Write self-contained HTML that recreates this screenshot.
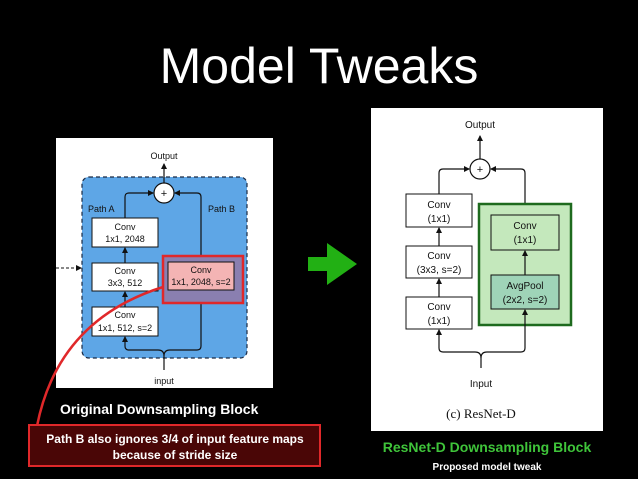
<!DOCTYPE html>
<html><head><meta charset="utf-8"><style>
html,body{margin:0;padding:0;background:#000;}
body{width:638px;height:479px;overflow:hidden;position:relative;font-family:"Liberation Sans",sans-serif;}
</style></head><body>
<svg width="638" height="479" viewBox="0 0 638 479" xmlns="http://www.w3.org/2000/svg" style="position:absolute;left:0;top:0">
<defs>
<marker id="a" markerWidth="6" markerHeight="6" refX="5" refY="3" orient="auto" markerUnits="userSpaceOnUse"><path d="M0,0 L6,3 L0,6 z" fill="#111"/></marker>
</defs>
<rect width="638" height="479" fill="#000"/>
<text x="319" y="83" font-size="50" fill="#fff" text-anchor="middle" font-family="Liberation Sans">Model Tweaks</text>

<!-- left panel -->
<rect x="56" y="138" width="217" height="250" fill="#fff"/>
<rect x="82" y="177" width="165" height="181" rx="7" fill="#5ea6e6" stroke="#1a2a44" stroke-width="1.2" stroke-dasharray="4,3"/>
<text x="164" y="159" font-size="9" text-anchor="middle" fill="#111">Output</text>
<text x="88" y="212" font-size="9" fill="#111">Path A</text>
<text x="208" y="212" font-size="9" fill="#111">Path B</text>
<line x1="164" y1="183" x2="164" y2="164" stroke="#111" stroke-width="1.2" marker-end="url(#a)"/>
<circle cx="164" cy="193" r="10" fill="#fff" stroke="#111" stroke-width="1.2"/>
<text x="164" y="197" font-size="11" text-anchor="middle" fill="#111">+</text>
<path d="M125 218 V197 Q125 193 129 193 H153" fill="none" stroke="#111" stroke-width="1.2" marker-end="url(#a)"/>
<path d="M201 262 V197 Q201 193 197 193 H175" fill="none" stroke="#111" stroke-width="1.2" marker-end="url(#a)"/>
<line x1="125" y1="263" x2="125" y2="248" stroke="#111" stroke-width="1.2" marker-end="url(#a)"/>
<line x1="125" y1="307" x2="125" y2="292" stroke="#111" stroke-width="1.2" marker-end="url(#a)"/>
<path d="M164 370 V356 Q164 350 158 350 H129 Q125 350 125 346 V337" fill="none" stroke="#111" stroke-width="1.2" marker-end="url(#a)"/>
<path d="M164 356 Q164 350 170 350 H197 Q201 350 201 346 V291" fill="none" stroke="#111" stroke-width="1.2" marker-end="url(#a)"/>
<line x1="56" y1="268" x2="81" y2="268" stroke="#111" stroke-width="1" stroke-dasharray="3,2" marker-end="url(#a)"/>
<rect x="92" y="218" width="66" height="29" fill="#fff" stroke="#111" stroke-width="1"/>
<text x="125" y="230" font-size="9" text-anchor="middle" fill="#111">Conv</text>
<text x="125" y="242" font-size="9" text-anchor="middle" fill="#111">1x1, 2048</text>
<rect x="92" y="263" width="66" height="28" fill="#fff" stroke="#111" stroke-width="1"/>
<text x="125" y="274" font-size="9" text-anchor="middle" fill="#111">Conv</text>
<text x="125" y="286" font-size="9" text-anchor="middle" fill="#111">3x3, 512</text>
<rect x="92" y="307" width="66" height="29" fill="#fff" stroke="#111" stroke-width="1"/>
<text x="125" y="318" font-size="9" text-anchor="middle" fill="#111">Conv</text>
<text x="125" y="331" font-size="9" text-anchor="middle" fill="#111">1x1, 512, s=2</text>
<rect x="163" y="256" width="80" height="47" fill="#8a7fb0" stroke="#e0282a" stroke-width="2.5"/>
<rect x="168" y="262" width="66" height="28" fill="#f4b4b4" stroke="#111" stroke-width="1"/>
<text x="201" y="273" font-size="9" text-anchor="middle" fill="#111">Conv</text>
<text x="201" y="285" font-size="9" text-anchor="middle" fill="#111">1x1, 2048, s=2</text>
<text x="164" y="384" font-size="9" text-anchor="middle" fill="#111">input</text>
<path d="M37 426 Q58 320 163 287" fill="none" stroke="#e0282a" stroke-width="2.5"/>

<text x="60" y="414" font-size="14" font-weight="bold" fill="#fff">Original Downsampling Block</text>
<rect x="29" y="425" width="291" height="41" fill="#4a0606" stroke="#e0282a" stroke-width="2"/>
<text x="175" y="443" font-size="12" font-weight="bold" fill="#fff" text-anchor="middle">Path B also ignores 3/4 of input feature maps</text>
<text x="175" y="459" font-size="12" font-weight="bold" fill="#fff" text-anchor="middle">because of stride size</text>

<!-- arrow -->
<path d="M308 257 H327 V243 L357 264 L327 285 V271 H308 Z" fill="#22b014"/>

<!-- right panel -->
<rect x="371" y="108" width="232" height="323" fill="#fff"/>
<text x="480" y="128" font-size="10" text-anchor="middle" fill="#111">Output</text>
<line x1="480" y1="159" x2="480" y2="136" stroke="#111" stroke-width="1.2" marker-end="url(#a)"/>
<circle cx="480" cy="169" r="10" fill="#fff" stroke="#111" stroke-width="1.2"/>
<text x="480" y="173" font-size="11" text-anchor="middle" fill="#111">+</text>
<path d="M439 194 V173 Q439 169 443 169 H469" fill="none" stroke="#111" stroke-width="1.2" marker-end="url(#a)"/>
<path d="M525 215 V173 Q525 169 521 169 H491" fill="none" stroke="#111" stroke-width="1.2" marker-end="url(#a)"/>
<rect x="479" y="204" width="92" height="121" fill="#c4e8bc" stroke="#1e6a1e" stroke-width="2.5"/>
<line x1="439" y1="246" x2="439" y2="228" stroke="#111" stroke-width="1.2" marker-end="url(#a)"/>
<line x1="439" y1="297" x2="439" y2="279" stroke="#111" stroke-width="1.2" marker-end="url(#a)"/>
<line x1="525" y1="275" x2="525" y2="251" stroke="#111" stroke-width="1.2" marker-end="url(#a)"/>
<path d="M481 368 V358 Q481 352 475 352 H443 Q439 352 439 348 V330" fill="none" stroke="#111" stroke-width="1.2" marker-end="url(#a)"/>
<path d="M481 358 Q481 352 487 352 H521 Q525 352 525 348 V310" fill="none" stroke="#111" stroke-width="1.2" marker-end="url(#a)"/>
<rect x="406" y="194" width="66" height="33" fill="#fff" stroke="#111" stroke-width="1"/>
<text x="439" y="208" font-size="10" text-anchor="middle" fill="#111">Conv</text>
<text x="439" y="222" font-size="10" text-anchor="middle" fill="#111">(1x1)</text>
<rect x="406" y="246" width="66" height="32" fill="#fff" stroke="#111" stroke-width="1"/>
<text x="439" y="259" font-size="10" text-anchor="middle" fill="#111">Conv</text>
<text x="439" y="273" font-size="10" text-anchor="middle" fill="#111">(3x3, s=2)</text>
<rect x="406" y="297" width="66" height="32" fill="#fff" stroke="#111" stroke-width="1"/>
<text x="439" y="310" font-size="10" text-anchor="middle" fill="#111">Conv</text>
<text x="439" y="324" font-size="10" text-anchor="middle" fill="#111">(1x1)</text>
<rect x="491" y="215" width="68" height="35" fill="#c4e8bc" stroke="#111" stroke-width="1"/>
<text x="525" y="229" font-size="10" text-anchor="middle" fill="#111">Conv</text>
<text x="525" y="243" font-size="10" text-anchor="middle" fill="#111">(1x1)</text>
<rect x="491" y="275" width="68" height="34" fill="#9fd4b8" stroke="#111" stroke-width="1"/>
<text x="525" y="289" font-size="10" text-anchor="middle" fill="#111">AvgPool</text>
<text x="525" y="303" font-size="10" text-anchor="middle" fill="#111">(2x2, s=2)</text>
<text x="481" y="387" font-size="10" text-anchor="middle" fill="#111">Input</text>
<text x="481" y="418" font-size="13" text-anchor="middle" fill="#111" font-family="Liberation Serif">(c) ResNet-D</text>

<text x="487" y="452" font-size="14" font-weight="bold" fill="#3fc43a" text-anchor="middle">ResNet-D Downsampling Block</text>
<text x="487" y="470" font-size="10" font-weight="bold" fill="#fff" text-anchor="middle">Proposed model tweak</text>
</svg>
</body></html>
